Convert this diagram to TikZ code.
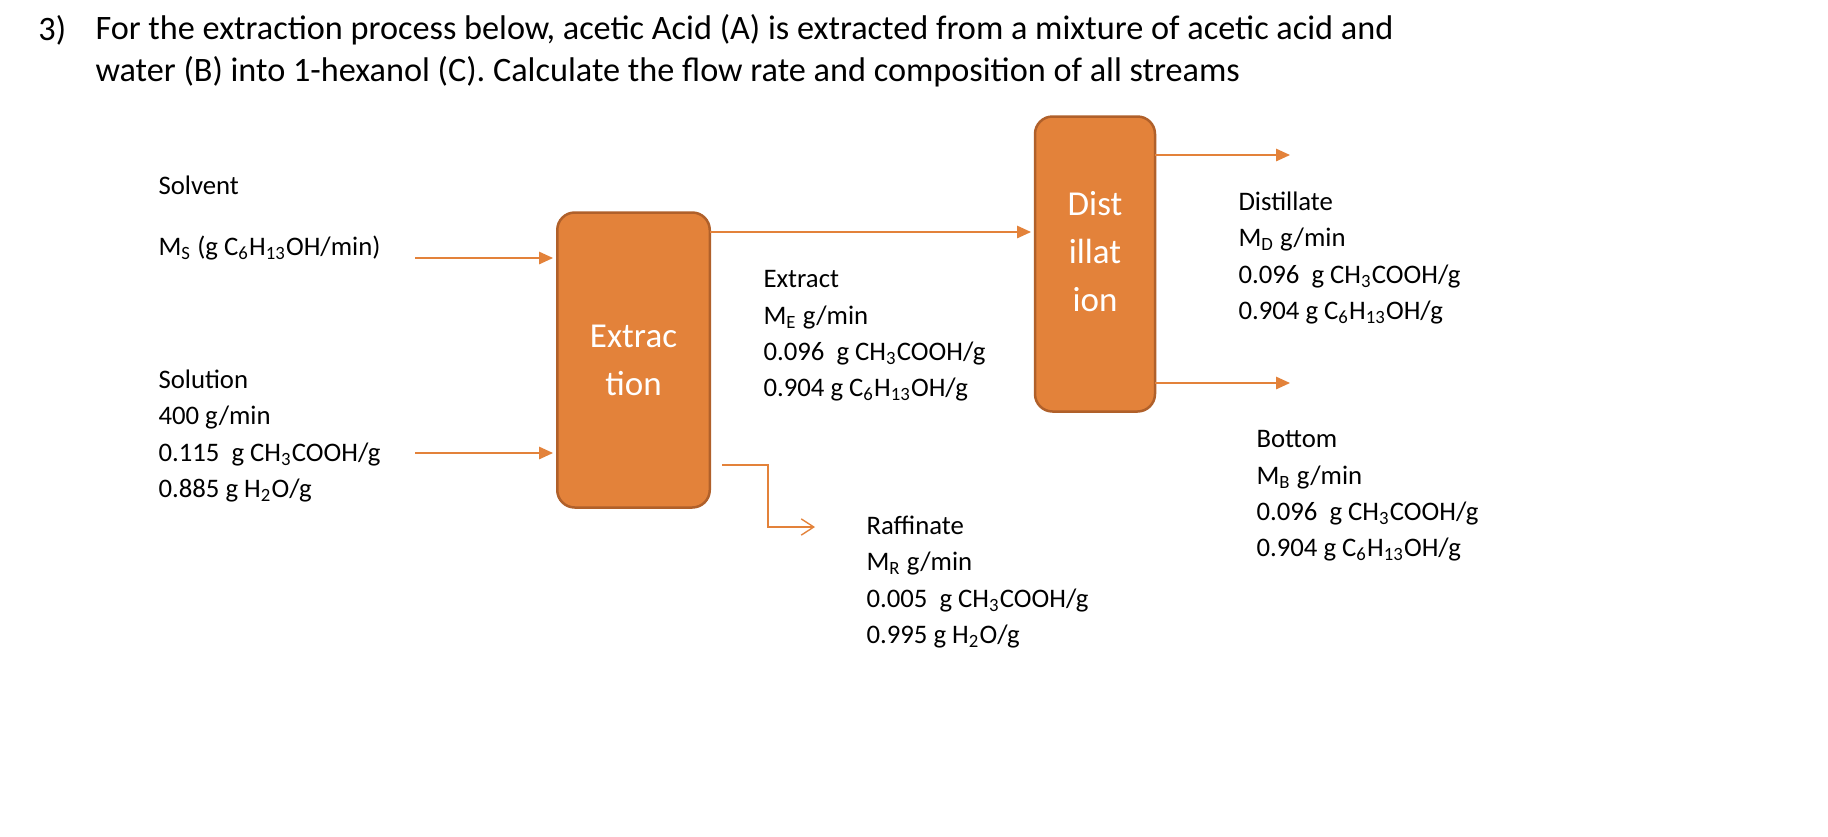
\documentclass[tikz,border=0pt]{standalone}
\usepackage{fontspec}
\setmainfont{Carlito}
\usetikzlibrary{arrows.meta}
\definecolor{boxfill}{HTML}{E3823A}
\definecolor{boxline}{HTML}{B0602A}
\definecolor{arr}{HTML}{E3823A}
\newcommand{\ssub}[1]{\textsubscript{#1}}
\begin{document}
\begin{tikzpicture}[x=0.4pt,y=-0.4pt,
  txt/.style={anchor=west,inner sep=0pt,font=\fontsize{10.7}{14.5}\selectfont,align=left},
  ttl/.style={anchor=west,inner sep=0pt,font=\fontsize{13.7}{16.8}\selectfont,align=left},
  unit/.style={draw=boxline,line width=1pt,fill=boxfill,rounded corners=7pt,text=white,font=\fontsize{14}{19.2}\selectfont,align=center,inner sep=0pt},
  flow/.style={draw=arr,line width=0.55pt,-{Triangle[length=5.6pt,width=5pt]}}]
\fill[white] (0,0) rectangle (1828,836);
\useasboundingbox (0,0) rectangle (1828,836);
\node[ttl] (n3) at (38,30) {3)};
\node[ttl] (t1) at (95,30) {For the extraction process below, acetic Acid (A) is extracted from a mixture of acetic acid and};
\node[ttl] (t2) at (95,72) {water (B) into 1-hexanol (C). Calculate the flow rate and composition of all streams};
\node[unit,minimum width=61pt,minimum height=118pt] (ex) at (633.5,360) {Extrac\\tion};
\node[unit,minimum width=48pt,minimum height=118pt] (di) at (1095,264) {};
\node[text=white,font=\fontsize{14}{19.2}\selectfont,align=center,inner sep=0pt] (dit) at (1095,252) {Dist\\illat\\ion};
\node[txt] (solv) at (158,185) {Solvent};
\node[txt] (ms) at (158,248) {M\ssub{S} (g C\ssub{6}H\ssub{13}OH/min)};
\node[txt] (sol) at (158,436) {Solution\\400 g/min\\0.115\ \ g CH\ssub{3}COOH/g\\0.885 g H\ssub{2}O/g};
\node[txt] (ext) at (763,336) {Extract\\M\ssub{E} g/min\\0.096\ \ g CH\ssub{3}COOH/g\\0.904 g C\ssub{6}H\ssub{13}OH/g};
\node[txt] (dst) at (1238,258) {Distillate\\M\ssub{D} g/min\\0.096\ \ g CH\ssub{3}COOH/g\\0.904 g C\ssub{6}H\ssub{13}OH/g};
\node[txt] (bot) at (1256,496) {Bottom\\M\ssub{B} g/min\\0.096\ \ g CH\ssub{3}COOH/g\\0.904 g C\ssub{6}H\ssub{13}OH/g};
\node[txt] (raf) at (866,582) {Raffinate\\M\ssub{R} g/min\\0.005\ \ g CH\ssub{3}COOH/g\\0.995 g H\ssub{2}O/g};
\coordinate (s1) at (415,258); \coordinate (s2) at (553,258);
\coordinate (l1) at (415,453); \coordinate (l2) at (553,453);
\coordinate (e1) at (710,232); \coordinate (e2) at (1031,232);
\coordinate (d1) at (1155,155); \coordinate (d2) at (1290,155);
\coordinate (b1) at (1155,383); \coordinate (b2) at (1290,383);
\coordinate (r1) at (722,465); \coordinate (r2) at (768,465); \coordinate (r3) at (768,527); \coordinate (r4) at (815,527);
\draw[flow] (s1) -- (s2);
\draw[flow] (l1) -- (l2);
\draw[flow] (e1) -- (e2);
\draw[flow] (d1) -- (d2);
\draw[flow] (b1) -- (b2);
\draw[draw=arr,line width=0.55pt,-{Straight Barb[length=5pt,width=6.5pt]}] (r1) -- (r2) -- (r3) -- (r4);
\end{tikzpicture}
\end{document}
